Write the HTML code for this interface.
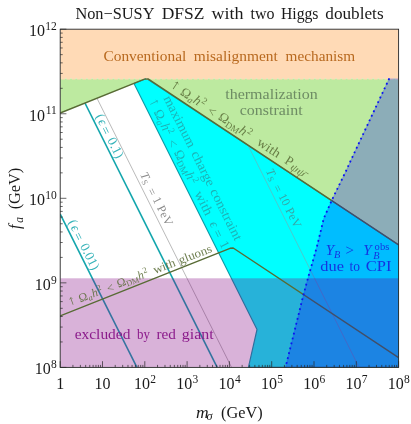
<!DOCTYPE html>
<html><head><meta charset="utf-8"><title>Non-SUSY DFSZ with two Higgs doublets</title>
<style>
html,body{margin:0;padding:0;background:#fff;}
body{width:411px;height:424px;overflow:hidden;}
svg{display:block;}
text{font-family:"Liberation Serif","DejaVu Serif",serif;}
.it{font-style:italic;}
.ar{font-family:"DejaVu Math TeX Gyre","DejaVu Sans",serif;}
</style></head><body>
<svg width="411" height="424" viewBox="0 0 411 424">
<rect x="0" y="0" width="411" height="424" fill="#ffffff"/>
<defs><clipPath id="pc"><rect x="60.2" y="29.2" width="338.40000000000003" height="338.2"/></clipPath></defs>

<g clip-path="url(#pc)">
<rect x="60.2" y="29.2" width="338.40000000000003" height="49.2" fill="#ffdab6"/>
<polygon points="60.2,78.4 398.6,78.4 398.6,244.89 146.5,78.5 60.2,113.02" fill="#bdeaa0"/>
<polygon points="134.0,83.50 146.5,78.5 398.6,244.89 398.6,367.4 248.4,367.4 257.0,329.50" fill="#00ffff" stroke="#0c9eaa" stroke-width="1.15" stroke-linejoin="round"/>
<line x1="97.0" y1="98.30" x2="231.55" y2="367.4" stroke="#8c8c8c" stroke-width="0.6"/>
<line x1="248.2" y1="145.62" x2="359.09" y2="367.4" stroke="#78a6aa" stroke-width="0.6"/>
<line x1="85.0" y1="103.10" x2="217.15" y2="367.4" stroke="#14a6ad" stroke-width="1.6"/>
<line x1="60.2" y1="214.00" x2="136.90" y2="367.4" stroke="#14a6ad" stroke-width="1.6"/>
<rect x="60.2" y="278.3" width="338.40000000000003" height="89.09999999999997" fill="#800080" fill-opacity="0.30"/>
<line x1="61.2" y1="78.75" x2="398.6" y2="78.75" stroke="#ffdab6" stroke-width="1.3" stroke-dasharray="3.7 1.6"/>
<polyline points="60.2,113.02 144.5,79.1 148.0,78.9 398.6,244.89" fill="none" stroke="#586b35" stroke-width="1.45" stroke-linejoin="round"/>
<polyline points="60.2,315.90 230.0,248.29999999999998 233.2,248.0 398.6,357.66" fill="none" stroke="#586b35" stroke-width="1.45" stroke-linejoin="round"/>
<polygon points="389.3,78.4 351,160 346,171 332,199.8 323.8,218.4 317.4,244.7 313.2,260 308.3,276.8 303.4,295 285.5,367.4 398.6,367.4 398.6,78.4" fill="#0000ff" fill-opacity="0.26"/>
<polyline points="389.3,78.4 351,160 346,171 332,199.8 323.8,218.4 317.4,244.7 313.2,260 308.3,276.8 303.4,295 285.5,367.4" fill="none" stroke="#2030ff" stroke-opacity="0.3" stroke-width="0.8"/>
<polyline points="389.3,78.4 351,160 346,171 332,199.8 323.8,218.4 317.4,244.7 313.2,260 308.3,276.8 303.4,295 285.5,367.4" fill="none" stroke="#0a14f0" stroke-width="1.8" stroke-dasharray="1.8 3.25"/>
</g>
<path d="M60.20,367.4v-6.2 M72.93,367.4v-2.5 M80.38,367.4v-2.5 M85.67,367.4v-2.5 M89.77,367.4v-2.5 M93.12,367.4v-2.5 M95.95,367.4v-2.5 M98.40,367.4v-2.5 M100.56,367.4v-2.5 M102.50,367.4v-6.2 M115.23,367.4v-2.5 M122.68,367.4v-2.5 M127.97,367.4v-2.5 M132.07,367.4v-2.5 M135.42,367.4v-2.5 M138.25,367.4v-2.5 M140.70,367.4v-2.5 M142.86,367.4v-2.5 M144.80,367.4v-6.2 M157.53,367.4v-2.5 M164.98,367.4v-2.5 M170.27,367.4v-2.5 M174.37,367.4v-2.5 M177.72,367.4v-2.5 M180.55,367.4v-2.5 M183.00,367.4v-2.5 M185.16,367.4v-2.5 M187.10,367.4v-6.2 M199.83,367.4v-2.5 M207.28,367.4v-2.5 M212.57,367.4v-2.5 M216.67,367.4v-2.5 M220.02,367.4v-2.5 M222.85,367.4v-2.5 M225.30,367.4v-2.5 M227.46,367.4v-2.5 M229.40,367.4v-6.2 M242.13,367.4v-2.5 M249.58,367.4v-2.5 M254.87,367.4v-2.5 M258.97,367.4v-2.5 M262.32,367.4v-2.5 M265.15,367.4v-2.5 M267.60,367.4v-2.5 M269.76,367.4v-2.5 M271.70,367.4v-6.2 M284.43,367.4v-2.5 M291.88,367.4v-2.5 M297.17,367.4v-2.5 M301.27,367.4v-2.5 M304.62,367.4v-2.5 M307.45,367.4v-2.5 M309.90,367.4v-2.5 M312.06,367.4v-2.5 M314.00,367.4v-6.2 M326.73,367.4v-2.5 M334.18,367.4v-2.5 M339.47,367.4v-2.5 M343.57,367.4v-2.5 M346.92,367.4v-2.5 M349.75,367.4v-2.5 M352.20,367.4v-2.5 M354.36,367.4v-2.5 M356.30,367.4v-6.2 M369.03,367.4v-2.5 M376.48,367.4v-2.5 M381.77,367.4v-2.5 M385.87,367.4v-2.5 M389.22,367.4v-2.5 M392.05,367.4v-2.5 M394.50,367.4v-2.5 M396.66,367.4v-2.5 M398.60,367.4v-6.2 M60.2,367.40h6.2 M60.2,341.95h2.5 M60.2,327.06h2.5 M60.2,316.50h2.5 M60.2,308.30h2.5 M60.2,301.61h2.5 M60.2,295.95h2.5 M60.2,291.04h2.5 M60.2,286.72h2.5 M60.2,282.85h6.2 M60.2,257.40h2.5 M60.2,242.51h2.5 M60.2,231.95h2.5 M60.2,223.75h2.5 M60.2,217.06h2.5 M60.2,211.40h2.5 M60.2,206.49h2.5 M60.2,202.17h2.5 M60.2,198.30h6.2 M60.2,172.85h2.5 M60.2,157.96h2.5 M60.2,147.40h2.5 M60.2,139.20h2.5 M60.2,132.51h2.5 M60.2,126.85h2.5 M60.2,121.94h2.5 M60.2,117.62h2.5 M60.2,113.75h6.2 M60.2,88.30h2.5 M60.2,73.41h2.5 M60.2,62.85h2.5 M60.2,54.65h2.5 M60.2,47.96h2.5 M60.2,42.30h2.5 M60.2,37.39h2.5 M60.2,33.07h2.5 M60.2,29.20h6.2" stroke="#262626" stroke-width="0.7" fill="none"/>
<rect x="60.2" y="29.2" width="338.40000000000003" height="338.2" fill="none" stroke="#262626" stroke-width="0.9"/>
<text x="50.65" y="374.40" font-size="16" text-anchor="end" fill="#1a1a1a">10</text>
<text x="56.80" y="368.10" font-size="11.5" text-anchor="end" fill="#1a1a1a">8</text>
<text x="50.65" y="289.85" font-size="16" text-anchor="end" fill="#1a1a1a">10</text>
<text x="56.80" y="283.55" font-size="11.5" text-anchor="end" fill="#1a1a1a">9</text>
<text x="44.90" y="205.30" font-size="16" text-anchor="end" fill="#1a1a1a">10</text>
<text x="56.80" y="199.00" font-size="11.5" text-anchor="end" fill="#1a1a1a">10</text>
<text x="44.90" y="120.75" font-size="16" text-anchor="end" fill="#1a1a1a">10</text>
<text x="56.80" y="114.45" font-size="11.5" text-anchor="end" fill="#1a1a1a">11</text>
<text x="44.90" y="36.20" font-size="16" text-anchor="end" fill="#1a1a1a">10</text>
<text x="56.80" y="29.90" font-size="11.5" text-anchor="end" fill="#1a1a1a">12</text>
<text x="60.2" y="388.8" font-size="16" text-anchor="middle" fill="#1a1a1a">1</text>
<text x="102.5" y="388.8" font-size="16" text-anchor="middle" fill="#1a1a1a">10</text>
<text x="133.97" y="388.8" font-size="16" fill="#1a1a1a">10</text>
<text x="150.28" y="383.00" font-size="11.5" fill="#1a1a1a">2</text>
<text x="176.28" y="388.8" font-size="16" fill="#1a1a1a">10</text>
<text x="192.58" y="383.00" font-size="11.5" fill="#1a1a1a">3</text>
<text x="218.58" y="388.8" font-size="16" fill="#1a1a1a">10</text>
<text x="234.88" y="383.00" font-size="11.5" fill="#1a1a1a">4</text>
<text x="260.88" y="388.8" font-size="16" fill="#1a1a1a">10</text>
<text x="277.18" y="383.00" font-size="11.5" fill="#1a1a1a">5</text>
<text x="303.18" y="388.8" font-size="16" fill="#1a1a1a">10</text>
<text x="319.48" y="383.00" font-size="11.5" fill="#1a1a1a">6</text>
<text x="345.48" y="388.8" font-size="16" fill="#1a1a1a">10</text>
<text x="361.78" y="383.00" font-size="11.5" fill="#1a1a1a">7</text>
<text x="387.78" y="388.8" font-size="16" fill="#1a1a1a">10</text>
<text x="404.08" y="383.00" font-size="11.5" fill="#1a1a1a">8</text>
<text x="75.4" y="18.7" font-size="16.3" fill="#1a1a1a" textLength="79.1" lengthAdjust="spacingAndGlyphs" >Non−SUSY</text>
<text x="161.7" y="18.7" font-size="16.3" fill="#1a1a1a" textLength="42.8" lengthAdjust="spacingAndGlyphs" >DFSZ</text>
<text x="211.4" y="18.7" font-size="16.3" fill="#1a1a1a" textLength="32.1" lengthAdjust="spacingAndGlyphs" >with</text>
<text x="250.5" y="18.7" font-size="16.3" fill="#1a1a1a" textLength="24.0" lengthAdjust="spacingAndGlyphs" >two</text>
<text x="280.9" y="18.7" font-size="16.3" fill="#1a1a1a" textLength="37.6" lengthAdjust="spacingAndGlyphs" >Higgs</text>
<text x="325.3" y="18.7" font-size="16.3" fill="#1a1a1a" textLength="58.3" lengthAdjust="spacingAndGlyphs" >doublets</text>
<text x="103.5" y="60.5" font-size="15.0" fill="#b8691f" textLength="82.8" lengthAdjust="spacingAndGlyphs" >Conventional</text>
<text x="193.8" y="60.5" font-size="15.0" fill="#b8691f" textLength="84.0" lengthAdjust="spacingAndGlyphs" >misalignment</text>
<text x="285.6" y="60.5" font-size="15.0" fill="#b8691f" textLength="69.5" lengthAdjust="spacingAndGlyphs" >mechanism</text>
<text x="225.2" y="99" font-size="15.0" fill="#6e8c64" textLength="92.6" lengthAdjust="spacingAndGlyphs" >thermalization</text>
<text x="239.8" y="114.5" font-size="15.0" fill="#6e8c64" textLength="62.8" lengthAdjust="spacingAndGlyphs" >constraint</text>
<text x="74.7" y="339.1" font-size="15.0" fill="#8b1a8b" textLength="55.7" lengthAdjust="spacingAndGlyphs" >excluded</text>
<text x="137" y="339.1" font-size="15.0" fill="#8b1a8b" textLength="12.9" lengthAdjust="spacingAndGlyphs" >by</text>
<text x="156.5" y="339.1" font-size="15.0" fill="#8b1a8b" textLength="19.4" lengthAdjust="spacingAndGlyphs" >red</text>
<text x="181.8" y="339.1" font-size="15.0" fill="#8b1a8b" textLength="31.9" lengthAdjust="spacingAndGlyphs" >giant</text>
<text x="325.8" y="255.2" font-size="15" fill="#1434e0" class="it">Y</text>
<text x="334.1" y="258" font-size="10.3" fill="#1434e0" class="it">B</text>
<text x="345.6" y="255.2" font-size="15" fill="#1434e0">&gt;</text>
<text x="363.2" y="255.2" font-size="15" fill="#1434e0" class="it">Y</text>
<text x="373.3" y="259" font-size="10.3" fill="#1434e0" class="it">B</text>
<text x="374.6" y="249.6" font-size="10.3" fill="#1434e0" textLength="14.7" lengthAdjust="spacingAndGlyphs">obs</text>
<text x="320.3" y="270.5" font-size="15.0" fill="#1434e0" textLength="23.6" lengthAdjust="spacingAndGlyphs" >due</text>
<text x="349.4" y="270.5" font-size="15.0" fill="#1434e0" textLength="10.5" lengthAdjust="spacingAndGlyphs" >to</text>
<text x="365.8" y="270.5" font-size="15.0" fill="#1434e0" textLength="25.7" lengthAdjust="spacingAndGlyphs" >CPI</text>
<text x="196.0" y="417.6" font-size="16" fill="#1a1a1a" class="it" textLength="12.6" lengthAdjust="spacingAndGlyphs">m</text>
<text x="206.6" y="420.4" font-size="12.3" fill="#1a1a1a" class="it">σ</text>
<text x="221.1" y="417.6" font-size="16" fill="#1a1a1a" textLength="41.6" lengthAdjust="spacingAndGlyphs">(GeV)</text>
<g transform="translate(20,229) rotate(-90)"><text x="0" y="0" font-size="16" fill="#1a1a1a" class="it">f</text><text x="6.2" y="2.6" font-size="11.5" fill="#1a1a1a" class="it">a</text><text x="19.7" y="0" font-size="16" fill="#1a1a1a" textLength="41.6" lengthAdjust="spacingAndGlyphs">(GeV)</text></g>
<g transform="translate(170.17,87.66) rotate(33.42)" fill="#586b35" fill-opacity="0.86">
<text x="0.25" y="-2.00" font-size="10.241000000000001" class="ar">↑</text>
<text x="11.30" y="0.00" font-size="13.3">Ω</text>
<text x="21.30" y="2.20" font-size="9.31" class="it">a</text>
<text x="26.60" y="0.00" font-size="13.3" class="it">h</text>
<text x="33.80" y="-4.80" font-size="9.31">2</text>
<text x="44.30" y="1.10" font-size="13.3">&lt;</text>
<text x="56.60" y="0.00" font-size="13.3">Ω</text>
<text x="66.50" y="2.20" font-size="9.31" textLength="14.6" lengthAdjust="spacingAndGlyphs">DM</text>
<text x="81.30" y="0.00" font-size="13.3" class="it">h</text>
<text x="88.50" y="-4.80" font-size="9.31">2</text>
<text x="102.80" y="0.00" font-size="13.3" textLength="25.5" lengthAdjust="spacingAndGlyphs">with</text>
<text x="136.00" y="0.00" font-size="13.3">P</text>
<text x="144.40" y="2.00" font-size="10.64" class="it" textLength="15.6" lengthAdjust="spacingAndGlyphs">ψψ̄</text>
</g>
<g transform="translate(148.44,101.88) rotate(63.43)" fill="#1fa7aa" fill-opacity="0.86">
<text x="0.25" y="-2.00" font-size="10.241000000000001" class="ar">↑</text>
<text x="11.30" y="0.00" font-size="13.3">Ω</text>
<text x="21.30" y="2.20" font-size="9.31" class="it">a</text>
<text x="26.60" y="0.00" font-size="13.3" class="it">h</text>
<text x="33.80" y="-4.80" font-size="9.31">2</text>
<text x="44.30" y="1.10" font-size="13.3">&lt;</text>
<text x="56.60" y="0.00" font-size="13.3">Ω</text>
<text x="66.50" y="2.20" font-size="9.31" textLength="14.6" lengthAdjust="spacingAndGlyphs">DM</text>
<text x="81.30" y="0.00" font-size="13.3" class="it">h</text>
<text x="88.50" y="-4.80" font-size="9.31">2</text>
<text x="102.50" y="0.00" font-size="13.3" textLength="25.5" lengthAdjust="spacingAndGlyphs">with</text>
<text x="136.20" y="0.00" font-size="13.3" class="it">ϵ</text>
<text x="145.30" y="1.10" font-size="13.3">=</text>
<text x="158.30" y="0.00" font-size="13.3">1</text>
</g>
<g transform="translate(163.25,98.17) rotate(63.43)" fill="#1fa7aa" fill-opacity="0.86">
<text x="0.00" y="0.00" font-size="13.3" textLength="56.5" lengthAdjust="spacingAndGlyphs">maximum</text>
<text x="62.00" y="0.00" font-size="13.3" textLength="37.5" lengthAdjust="spacingAndGlyphs">charge</text>
<text x="104.20" y="0.00" font-size="13.3" textLength="56.0" lengthAdjust="spacingAndGlyphs">constraint</text>
</g>
<g transform="translate(70.80,306.00) rotate(-20.90)" fill="#586b35" fill-opacity="0.86">
<text x="0.23" y="-1.80" font-size="9.24" class="ar">↑</text>
<text x="10.17" y="0.00" font-size="12.0">Ω</text>
<text x="19.17" y="1.98" font-size="8.399999999999999" class="it">a</text>
<text x="23.94" y="0.00" font-size="12.0" class="it">h</text>
<text x="30.42" y="-4.32" font-size="8.399999999999999">2</text>
<text x="39.87" y="0.99" font-size="12.0">&lt;</text>
<text x="50.94" y="0.00" font-size="12.0">Ω</text>
<text x="59.85" y="1.98" font-size="8.399999999999999" textLength="13.14" lengthAdjust="spacingAndGlyphs">DM</text>
<text x="73.17" y="0.00" font-size="12.0" class="it">h</text>
<text x="79.65" y="-4.32" font-size="8.399999999999999">2</text>
<text x="90.00" y="0.00" font-size="12.0" textLength="23.0" lengthAdjust="spacingAndGlyphs">with</text>
<text x="117.20" y="0.00" font-size="12.0" textLength="34.8" lengthAdjust="spacingAndGlyphs">gluons</text>
</g>
<g transform="translate(95.15,116.47) rotate(63.43)" fill="#14a6ad" fill-opacity="0.86">
<text x="0.00" y="0.00" font-size="13.3">(</text>
<text x="5.70" y="0.00" font-size="13.3" class="it">ϵ</text>
<text x="13.60" y="1.10" font-size="13.3">=</text>
<text x="26.40" y="0.00" font-size="13.3" textLength="21.6" lengthAdjust="spacingAndGlyphs">0.1)</text>
</g>
<g transform="translate(67.94,222.32) rotate(63.43)" fill="#14a6ad" fill-opacity="0.86">
<text x="0.00" y="0.00" font-size="13.3">(</text>
<text x="5.70" y="0.00" font-size="13.3" class="it">ϵ</text>
<text x="13.60" y="1.10" font-size="13.3">=</text>
<text x="26.40" y="0.00" font-size="13.3" textLength="28.2" lengthAdjust="spacingAndGlyphs">0.01)</text>
</g>
<g transform="translate(139.98,174.42) rotate(63.43)" fill="#787878" fill-opacity="0.86">
<text x="0.00" y="0.00" font-size="12.0" class="it">T</text>
<text x="7.00" y="2.00" font-size="8.399999999999999">S</text>
<text x="17.50" y="1.00" font-size="12.0">=</text>
<text x="27.80" y="0.00" font-size="12.0">1</text>
<text x="37.40" y="0.00" font-size="12.0" textLength="21.2" lengthAdjust="spacingAndGlyphs">PeV</text>
</g>
<g transform="translate(265.86,171.11) rotate(63.43)" fill="#3f9696" fill-opacity="0.86">
<text x="0.00" y="0.00" font-size="12.0" class="it">T</text>
<text x="7.00" y="2.00" font-size="8.399999999999999">S</text>
<text x="17.50" y="1.00" font-size="12.0">=</text>
<text x="27.80" y="0.00" font-size="12.0">10</text>
<text x="43.40" y="0.00" font-size="12.0" textLength="21.2" lengthAdjust="spacingAndGlyphs">PeV</text>
</g>
</svg></body></html>
